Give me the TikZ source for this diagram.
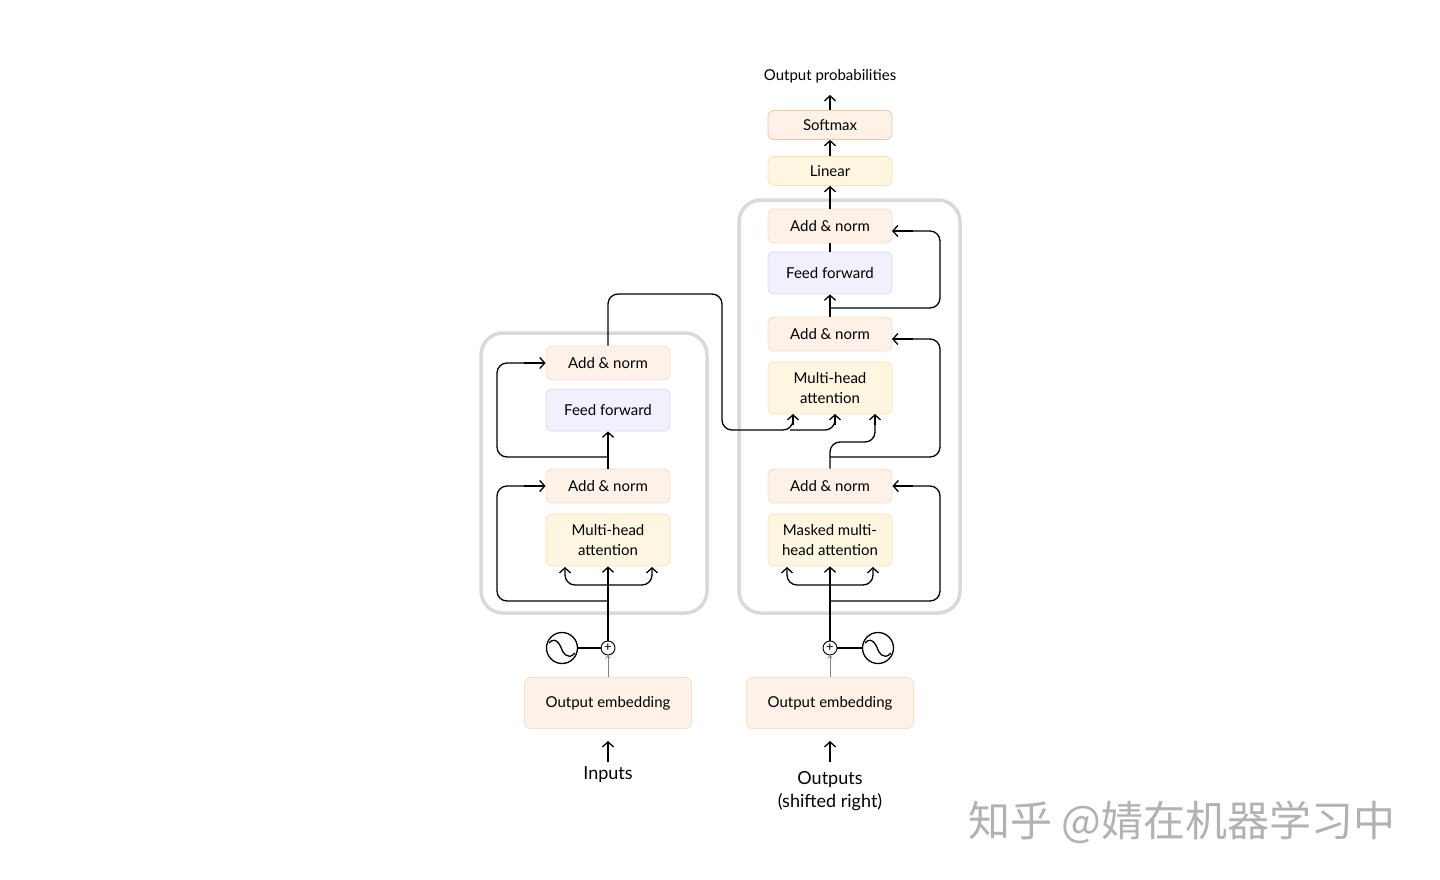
\documentclass[tikz,border=0pt]{standalone}
\usepackage{fontspec}
\setmainfont{Lato}
\newfontfamily\cjk{Noto Sans CJK SC}
\usetikzlibrary{arrows.meta}
\definecolor{anF}{HTML}{FDF1E8}\definecolor{anD}{HTML}{F7DDCB}
\definecolor{ffF}{HTML}{F2F0FD}\definecolor{ffD}{HTML}{DCD8F4}
\definecolor{mhF}{HTML}{FEF6E0}\definecolor{mhD}{HTML}{F3E3B5}
\definecolor{smD}{HTML}{F0C6A8}
\begin{document}
\begin{tikzpicture}[x=1pt,y=-1pt,font=\fontsize{15}{18}\selectfont,
 blk/.style={draw,line width=0.8pt,rounded corners=6pt,minimum width=124pt,align=center,inner sep=2pt},
 an/.style={blk,fill=anF,draw=anD,minimum height=34pt},
 ff/.style={blk,fill=ffF,draw=ffD,minimum height=42pt},
 mh/.style={blk,fill=mhF,draw=mhD,minimum height=52pt,font=\fontsize{15}{20}\selectfont},
 emb/.style={blk,fill=anF,draw=anD,minimum width=167pt,minimum height=51pt},
 ln/.style={line width=1.3pt,rounded corners=10pt},
 ar/.style={ln,-{Straight Barb[length=5pt,width=11pt,line width=1.3pt]}},
 grp/.style={draw=black!15,line width=3.5pt,rounded corners=22pt}]
\useasboundingbox (0,0) rectangle (1440,880);
% groups
\draw[grp] (481,333) rectangle (707,613);
\draw[grp] (739,200) rectangle (960,613);
% encoder
\node[an] (ea2) at (608,363) {Add \& norm};
\node[ff] (eff) at (608,410) {Feed forward};
\node[an] (ea1) at (608,486) {Add \& norm};
\node[mh] (emh) at (608,540) {Multi-head\\attention};
\node[emb] (eemb) at (608,703) {Output embedding};
\node[draw,circle,line width=0.9pt,minimum size=14pt,inner sep=0pt,font=\fontsize{13}{13}\selectfont] (ep) at (608,648) {+};
\node[draw,circle,line width=1.3pt,minimum size=31pt,inner sep=0pt] (es) at (562,648) {};
\draw[line width=1.3pt] (549,643) .. controls (557,634) and (562,650) .. (562,650) .. controls (562,650) and (567,662) .. (575,653);
\node (ein) at (608,775) {\fontsize{18}{20}\selectfont Inputs};
\coordinate (einA) at (608,762);
% decoder
\node[an] (da3) at (830,226) {Add \& norm};
\node[ff] (dff) at (830,273) {Feed forward};
\node[an] (da2) at (830,334) {Add \& norm};
\node[mh] (dmh) at (830,388) {Multi-head\\attention};
\node[an] (da1) at (830,486) {Add \& norm};
\node[mh] (dmm) at (830,540) {Masked multi-\\head attention};
\node[emb] (demb) at (830,703) {Output embedding};
\node[draw,circle,line width=0.9pt,minimum size=14pt,inner sep=0pt,font=\fontsize{13}{13}\selectfont] (dp) at (830,648) {+};
\node[draw,circle,line width=1.3pt,minimum size=31pt,inner sep=0pt] (ds) at (878,648) {};
\draw[line width=1.3pt] (865,643) .. controls (873,634) and (878,650) .. (878,650) .. controls (878,650) and (883,662) .. (891,653);
\node[align=center,font=\fontsize{18}{23}\selectfont] (dout) at (830,791) {Outputs\\(shifted right)};
\coordinate (doutA) at (830,762);
\node[blk,fill=mhF,draw=mhD,minimum height=29pt] (lin) at (830,171) {Linear};
\node[blk,fill=anF,draw=smD,minimum height=29pt] (sm) at (830,125) {Softmax};
\node (prob) at (830,76) {Output probabilities};
% encoder connectors
\draw[line width=0.8pt,black!50,-{To[length=3pt,width=5pt]}] (eemb.north) -- (ep.south);
\draw[line width=1.3pt] (es.east) -- (ep.west);
\draw[ar] (ep.north) -- (emh.south);
\draw[ar] (608,585) -| (565,567);
\draw[ar] (608,585) -| (652,567);
\draw[ln] (608,601) -| (497,486) -- (525,486);
\draw[ar] (524,486) -- (ea1.west);
\draw[ar] (ea1.north) -- (eff.south);
\draw[ln] (608,457) -| (497,363) -- (525,363);
\draw[ar] (524,363) -- (ea2.west);
\draw[ln] (ea2.north) |- (722,294) |- (793,430) -- (793,424);
\draw[ar] (793,425) -- (793,414);
\draw[ln] (790,430) -| (835,424);
\draw[ar] (835,425) -- (835,414);
\draw[ar] (einA) -- (608,741);
% decoder connectors
\draw[line width=0.8pt,black!50,-{To[length=3pt,width=5pt]}] (demb.north) -- (dp.south);
\draw[line width=1.3pt] (ds.west) -- (dp.east);
\draw[ar] (dp.north) -- (dmm.south);
\draw[ar] (830,585) -| (787,567);
\draw[ar] (830,585) -| (873,567);
\draw[ln] (830,601) -| (940,486) -- (912,486);
\draw[ar] (913,486) -- (da1.east);
\draw[ln] (da1.north) |- (875,442) -- (875,424);
\draw[ar] (875,425) -- (875,414);
\draw[ln] (830,457) -| (940,339) -- (912,339);
\draw[ar] (913,339) -- (892,339);
\draw[ar] (da2.north) -- (dff.south);
\draw[ln] (830,308) -| (940,231) -- (912,231);
\draw[ar] (913,231) -- (892,231);
\draw[line width=1.3pt] (dff.north) -- (da3.south);
\draw[ar] (da3.north) -- (lin.south);
\draw[ar] (lin.north) -- (sm.south);
\draw[ar] (sm.north) -- (830,95);
\draw[ar] (doutA) -- (830,741);
% watermark
\node[text=black!30,font=\cjk\fontsize{42}{46}\selectfont,anchor=west] (wm) at (965,822) {知乎 @婧在机器学习中};
\end{tikzpicture}
\end{document}
